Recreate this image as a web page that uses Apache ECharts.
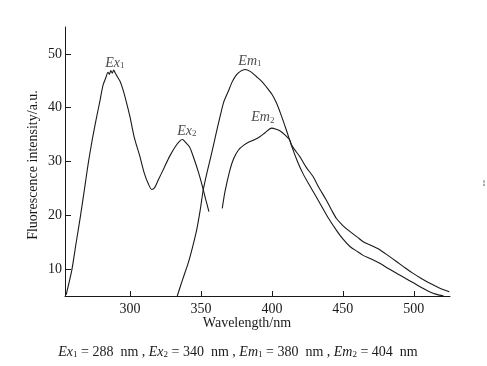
<!DOCTYPE html>
<html><head><meta charset="utf-8">
<script src="https://cdn.jsdelivr.net/npm/echarts@6/dist/echarts.min.js"></script>
<style>html,body{margin:0;padding:0;background:#fff}#c{width:487px;height:366px}</style>
</head><body><div id="c"></div>
<script>
// Excitation spectrum (Ex1, Ex2 peaks)
var exX = [255, 259, 262, 265, 268, 270.6, 273.5, 276.5, 279, 281, 283, 284.5, 285.5, 286.5, 287.5, 288.5, 289.5, 291, 293, 295, 297.5, 300, 303, 307, 310, 313, 315.3, 317.5, 320, 324, 328, 332, 335, 337, 339, 342, 345, 348, 351, 353, 355.6];
var exY = [5.2, 9.8, 14.8, 19.7, 25, 29.7, 34.2, 38.3, 41.5, 44.2, 45.6, 46.6, 46.2, 46.9, 46.4, 47, 46.5, 45.8, 44.9, 43.4, 41, 38.3, 34.5, 30.9, 27.9, 25.8, 24.8, 25.2, 26.6, 28.8, 31, 32.8, 33.8, 34.1, 33.6, 32.7, 30.6, 28.2, 25.4, 23.3, 20.7];
// Emission spectrum Em1
var em1X = [333.3, 337, 341, 344, 347, 349.5, 351.6, 354.5, 357.5, 360.5, 363.4, 366, 369.2, 372, 375, 378, 381, 385, 389, 392.5, 396, 400, 403, 406, 410, 414, 418, 422, 426, 430, 435, 440, 445.5, 450, 455, 460, 464, 470, 476, 482, 488, 494, 500, 506, 511, 516, 521];
var em1Y = [5, 8, 11.1, 14, 17.3, 21, 24.7, 28.2, 31.5, 35, 38.3, 41, 43, 44.8, 46.1, 46.8, 47.1, 46.7, 45.8, 45, 43.9, 42.5, 41, 39, 36, 32.8, 30, 27.7, 25.8, 24, 21.7, 19.4, 17.2, 15.6, 14.2, 13.3, 12.6, 11.9, 11.1, 10.1, 9.2, 8.3, 7.4, 6.5, 5.8, 5.3, 5];
// Emission spectrum Em2
var em2X = [365, 367, 370.4, 373, 376.3, 380, 384.5, 388, 391.5, 395, 399.8, 403, 405.6, 409, 412.6, 414, 416, 419.7, 424, 429, 433, 438.4, 442, 445.5, 450, 454.9, 460, 464.3, 470, 476, 482, 487.8, 494, 499.5, 505, 511, 518, 525];
var em2Y = [21.3, 24.5, 28.4, 30.5, 32.1, 33, 33.7, 34.1, 34.6, 35.3, 36.2, 36, 35.7, 35, 34, 33, 32.2, 30.9, 29, 27.2, 25.2, 22.8, 21, 19.4, 18.1, 17, 16, 15.1, 14.4, 13.6, 12.5, 11.4, 10.2, 9.2, 8.3, 7.4, 6.5, 5.8];
var xTicks = [300, 350, 400, 450, 500];
var yTicks = [10, 20, 30, 40, 50];
// peak label anchors (data coords)
var peakLabels = [
  {name: 'Ex', sub: '1', at: [289.4, 48.3]},
  {name: 'Ex', sub: '2', at: [340.1, 35.7]},
  {name: 'Em', sub: '1', at: [384.5, 48.7]},
  {name: 'Em', sub: '2', at: [393.6, 38.2]}
];

function pairs(xs, ys) { return xs.map(function (x, i) { return [x, ys[i]]; }); }
var FONT = '"Liberation Serif", "Times New Roman", serif';
var INK = '#1a1a1a';

var lineStyle = {color: INK, width: 1.1};
function lineSeries(xs, ys) {
  return {type: 'line', data: pairs(xs, ys), showSymbol: false, symbol: 'none', smooth: 0.25,
    lineStyle: lineStyle, silent: true, animation: false, clip: true};
}
var labelSeries = {
  type: 'scatter', symbolSize: 0, silent: true, animation: false,
  data: peakLabels.map(function (p) { return {value: p.at, lab: p}; }),
  label: {
    show: true, position: 'inside',
    formatter: function (d) { return '{i|' + d.data.lab.name + '}{s|' + d.data.lab.sub + '}'; },
    rich: {
      i: {fontFamily: FONT, fontStyle: 'italic', fontSize: 14, color: INK},
      s: {fontFamily: FONT, fontSize: 9, color: INK, verticalAlign: 'bottom', padding: [6, 0, 0, 0]}
    }
  }
};

var chart = echarts.init(document.getElementById('c'), null, {renderer: 'canvas'});
chart.setOption({
  animation: false,
  backgroundColor: '#fff',
  grid: {left: 65, right: 37, top: 27, bottom: 70, containLabel: false},
  xAxis: {
    type: 'value', min: 254.2, max: 525.5,
    axisLine: {show: true, lineStyle: {color: INK, width: 1}},
    axisTick: {show: true, inside: true, length: 5, lineStyle: {color: INK}, customValues: xTicks},
    axisLabel: {show: true, customValues: xTicks, margin: 6, fontFamily: FONT, fontSize: 14, color: INK},
    splitLine: {show: false}
  },
  yAxis: {
    type: 'value', min: 5, max: 55,
    axisLine: {show: true, lineStyle: {color: INK, width: 1}},
    axisTick: {show: true, inside: true, length: 6, lineStyle: {color: INK}, customValues: yTicks},
    axisLabel: {show: true, customValues: yTicks, margin: 3, fontFamily: FONT, fontSize: 14, color: INK},
    splitLine: {show: false}
  },
  series: [lineSeries(exX, exY), lineSeries(em1X, em1Y), lineSeries(em2X, em2Y), labelSeries],
  graphic: [
    {type: 'text', x: 33, y: 165, rotation: Math.PI / 2,
      style: {text: 'Fluorescence intensity/a.u.', fontFamily: FONT, fontSize: 14, fill: INK, align: 'center', verticalAlign: 'middle'}},
    {type: 'text', x: 247, y: 323,
      style: {text: 'Wavelength/nm', fontFamily: FONT, fontSize: 14, fill: INK, align: 'center', verticalAlign: 'middle'}},
    {type: 'text', x: 238, y: 352,
      style: {
        text: '{i|Ex}{s|1}{n| = 288  nm , }{i|Ex}{s|2}{n| = 340  nm , }{i|Em}{s|1}{n| = 380  nm , }{i|Em}{s|2}{n| = 404  nm}',
        align: 'center', verticalAlign: 'middle',
        rich: {
          i: {fontFamily: FONT, fontStyle: 'italic', fontSize: 14, fill: INK},
          n: {fontFamily: FONT, fontSize: 14, fill: INK},
          s: {fontFamily: FONT, fontSize: 9, fill: INK, verticalAlign: 'bottom', padding: [5, 0, 0, 0]}
        }
      }},
    {type: 'text', x: 484, y: 183, rotation: -Math.PI / 2,
      style: {text: 'nm', fontFamily: FONT, fontSize: 5, fill: '#666', align: 'center', verticalAlign: 'middle'}}
  ]
});
</script></body></html>
